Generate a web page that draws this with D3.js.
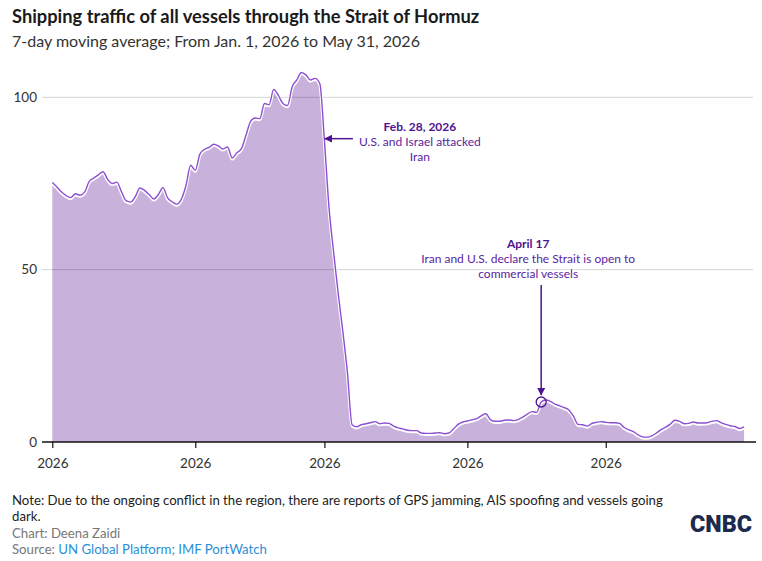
<!DOCTYPE html>
<html>
<head>
<meta charset="utf-8">
<script src="https://cdn.jsdelivr.net/npm/d3@7"></script>
<style>
  html, body { margin: 0; padding: 0; background: #fff; }
  svg { display: block; font-family: Lato, "Open Sans", sans-serif; }
</style>
</head>
<body>
<div id="chart"></div>
<script>
// data: 7-day moving average of daily transits, Jan 1 to May 31 2026
const startDate = new Date(2026, 0, 1);
const traffic = [
  75.3, 74.0, 72.5, 71.5, 70.9, 72.0, 71.6, 72.5, 75.6, 76.6,
  77.5, 78.4, 76.2, 75.0, 75.4, 72.6, 70.0, 69.6, 71.2, 73.7,
  73.0, 71.8, 70.5, 71.8, 73.8, 70.8, 69.7, 69.0, 70.5, 74.5,
  80.3, 78.8, 83.5, 84.9, 85.5, 86.4, 85.9, 85.0, 85.6, 82.4,
  83.9, 85.1, 89.0, 93.0, 94.0, 93.8, 98.2, 97.8, 102.3, 100.6,
  98.2, 97.6, 103.0, 105.0, 107.2, 106.5, 105.0, 105.5, 104.0, 87.5,
  68.0, 55.0, 43.0, 32.0, 20.0, 5.0, 4.4, 5.0, 5.3, 5.6,
  5.9, 5.3, 5.5, 5.4, 4.6, 4.1, 3.8, 3.4, 3.3, 3.3,
  2.6, 2.5, 2.5, 2.6, 2.7, 2.4, 2.6, 3.8, 5.1, 5.8,
  6.1, 6.4, 6.8, 7.6, 8.2, 6.5, 6.0, 6.0, 6.3, 6.4,
  6.2, 6.5, 7.2, 8.1, 8.8, 8.6, 11.6, 12.2, 11.8, 11.0,
  10.5, 10.0, 9.3, 7.5, 5.1, 5.0, 4.6, 5.4, 5.7, 5.9,
  5.7, 5.6, 5.6, 5.4, 4.2, 3.5, 3.0, 2.1, 1.5, 1.4,
  1.8, 2.6, 3.6, 4.3, 5.2, 6.3, 6.0, 5.3, 5.4, 5.8,
  5.5, 5.5, 5.6, 6.0, 6.2, 5.6, 5.1, 4.7, 4.5, 3.9,
  4.4
];
const yTicks = [0, 50, 100];

const notes = [
  { date: new Date(2026, 1, 28), title: "Feb. 28, 2026", lines: ["U.S. and Israel attacked", "Iran"] },
  { date: new Date(2026, 3, 17), title: "April 17", lines: ["Iran and U.S. declare the Strait is open to", "commercial vessels"] }
];

const data = traffic.map((v, i) => ({ date: d3.timeDay.offset(startDate, i), value: v }));

const W = 762, H = 561;
const svg = d3.select("#chart").append("svg")
  .attr("width", W).attr("height", H);

const x = d3.scaleTime()
  .domain([startDate, new Date(2026, 4, 31)])
  .range([52.3, 744.1]);
const y = d3.scaleLinear()
  .domain([0, 100])
  .range([442, 97.3]);

const purpleDark = "#4e1391";

// 标题
svg.append("text")
  .attr("x", 12).attr("y", 23)
  .attr("font-size", 18.3).attr("font-weight", 700).attr("fill", "#1a1a1a")
  .text("Shipping traffic of all vessels through the Strait of Hormuz");
svg.append("text")
  .attr("x", 12).attr("y", 47)
  .attr("font-size", 16).attr("fill", "#333")
  .text("7-day moving average; From Jan. 1, 2026 to May 31, 2026");

// area + line
const area = d3.area()
  .x(d => x(d.date))
  .y0(y(0))
  .y1(d => y(d.value))
  .curve(d3.curveMonotoneX);
const line = d3.line()
  .x(d => x(d.date))
  .y(d => y(d.value))
  .curve(d3.curveMonotoneX);

svg.append("path")
  .datum(data)
  .attr("fill", "#c8b1db")
  .attr("d", area);

// gridlines on top of the area
const grid = svg.append("g");
grid.selectAll("line")
  .data(yTicks.filter(d => d > 0))
  .join("line")
  .attr("x1", 42).attr("x2", 753)
  .attr("y1", d => y(d)).attr("y2", d => y(d))
  .attr("stroke", "#000").attr("stroke-opacity", 0.17).attr("stroke-width", 1);

svg.append("path")
  .datum(data)
  .attr("fill", "none")
  .attr("stroke", "#fff")
  .attr("stroke-width", 3.2)
  .attr("transform", "translate(0,1)")
  .attr("d", line);
svg.append("path")
  .datum(data)
  .attr("fill", "none")
  .attr("stroke", "#8b4fd0")
  .attr("stroke-width", 1.4)
  .attr("d", line);

// y labels
svg.append("g").selectAll("text")
  .data(yTicks)
  .join("text")
  .attr("x", 37).attr("y", d => y(d))
  .attr("dy", "0.35em")
  .attr("text-anchor", "end")
  .attr("font-size", 13.5).attr("fill", "#333")
  .text(d => d);

// x axis
const xAxis = svg.append("g")
  .attr("transform", `translate(0,${y(0)})`)
  .call(d3.axisBottom(x)
    .ticks(d3.timeMonth.every(1))
    .tickFormat(d3.timeFormat("%Y"))
    .tickSize(6)
    .tickPadding(10));
xAxis.select(".domain").remove();
xAxis.selectAll(".tick line").attr("stroke", "#111").attr("stroke-width", 1.2);
xAxis.selectAll(".tick text")
  .attr("font-family", "Lato, sans-serif")
  .attr("font-size", 13.5).attr("fill", "#333");
xAxis.append("line")
  .attr("x1", 42).attr("x2", 756)
  .attr("stroke", "#111").attr("stroke-width", 1.5);

// annotations
svg.append("defs").append("marker")
  .attr("id", "arrow")
  .attr("viewBox", "0 0 10 10")
  .attr("refX", 9).attr("refY", 5)
  .attr("markerWidth", 8).attr("markerHeight", 8)
  .attr("orient", "auto-start-reverse")
  .attr("markerUnits", "userSpaceOnUse")
  .append("path")
  .attr("d", "M0,0L10,5L0,10Z")
  .attr("fill", purpleDark);

function noteText(cx, top, n) {
  const t = svg.append("text")
    .attr("text-anchor", "middle")
    .attr("font-size", 12)
    .attr("fill", "#5b24a0")
    .attr("stroke", "#fff").attr("stroke-width", 3)
    .attr("paint-order", "stroke")
    .attr("stroke-linejoin", "round");
  t.append("tspan")
    .attr("x", cx).attr("y", top)
    .attr("font-weight", 700).attr("fill", purpleDark)
    .text(n.title);
  n.lines.forEach((l, i) => {
    t.append("tspan").attr("x", cx).attr("y", top + 15 * (i + 1)).text(l);
  });
}

// Feb 28
const n0 = notes[0];
const tip0 = x(d3.timeDay.offset(n0.date, 1)) + 0.5;
svg.append("line")
  .attr("x1", tip0 + 28).attr("x2", tip0)
  .attr("y1", y(88)).attr("y2", y(88))
  .attr("stroke", purpleDark).attr("stroke-width", 1.5)
  .attr("marker-end", "url(#arrow)");
noteText(tip0 + 95, 131, n0);

// April 17
const n1 = notes[1];
const v1 = data.find(d => +d.date === +n1.date).value;
const cx1 = x(n1.date);
noteText(cx1 - 13, 248, n1);
svg.append("line")
  .attr("x1", cx1).attr("x2", cx1)
  .attr("y1", 285).attr("y2", y(v1) - 7)
  .attr("stroke", purpleDark).attr("stroke-width", 1.5)
  .attr("marker-end", "url(#arrow)");
svg.append("circle")
  .attr("cx", cx1).attr("cy", y(v1))
  .attr("r", 5)
  .attr("fill", "none")
  .attr("stroke", purpleDark).attr("stroke-width", 1.3);

// footer
const foot = svg.append("g").attr("font-size", 13.2);
foot.append("text").attr("x", 12).attr("y", 505).attr("fill", "#222")
  .text("Note: Due to the ongoing conflict in the region, there are reports of GPS jamming, AIS spoofing and vessels going");
foot.append("text").attr("x", 12).attr("y", 521).attr("fill", "#222").text("dark.");
foot.append("text").attr("x", 12).attr("y", 538).attr("fill", "#777").text("Chart: Deena Zaidi");
const src = foot.append("text").attr("x", 12).attr("y", 554).attr("fill", "#777");
src.append("tspan").text("Source: ");
src.append("tspan").attr("fill", "#2a8fd8").text("UN Global Platform; IMF PortWatch");

// logo
svg.append("text")
  .attr("x", 690).attr("y", 532)
  .attr("font-family", "Roboto, sans-serif")
  .attr("font-size", 23).attr("font-weight", 900)
  .attr("fill", "#1c2a4d")
  .attr("textLength", 62).attr("lengthAdjust", "spacingAndGlyphs")
  .text("CNBC");
</script>
</body>
</html>
